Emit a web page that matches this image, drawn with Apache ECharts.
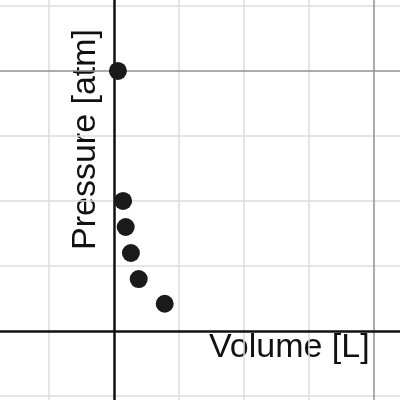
<!DOCTYPE html>
<html>
<head>
<meta charset="utf-8">
<script src="https://cdn.jsdelivr.net/npm/echarts@6/dist/echarts.min.js"></script>
<style>html,body{margin:0;padding:0;background:#fff}#c{width:400px;height:400px}</style>
</head>
<body>
<div id="c"></div>
<script>
// data
const volume = [0.06, 0.14, 0.18, 0.26, 0.38, 0.78]
const pressure = [4.0, 2.0, 1.6, 1.2, 0.8, 0.42]
const minorX = [-1, 1, 2, 3]
const minorY = [-1, 1, 2, 3, 5]
const majorX = [4]
const majorY = [4]

let myChart = echarts.init(document.getElementById('c'))
const minorStyle = { color: '#dcdcdc', width: 1.5, type: 'solid' }
const majorStyle = { color: '#909090', width: 1.5, type: 'solid' }
const axisStyle = { color: '#111', width: 2.5, type: 'solid' }
function vlines(xs) { return xs.map(v => ({ xAxis: v })) }
function hlines(ys) { return ys.map(v => ({ yAxis: v })) }
function lineSeries(data, style, z) {
    return {
        type: 'scatter', data: [], z: z, silent: true,
        markLine: { symbol: 'none', silent: true, label: { show: false }, lineStyle: style, data: data, animation: false }
    }
}
let option = {
    animation: false,
    grid: { left: 0, right: 0, top: 0, bottom: 0 },
    xAxis: { type: 'value', min: -1.754, max: 4.4, show: false, splitLine: { show: false } },
    yAxis: { type: 'value', min: -1.06, max: 5.09, show: false, splitLine: { show: false } },
    graphic: [
        { type: 'text', left: 209, top: 331, style: { text: 'Volume [L]', font: '34px "Liberation Sans", Arial', fill: '#111' } },
        { type: 'text', x: 69, y: 250, rotation: Math.PI / 2, style: { text: 'Pressure [atm]', font: '34px "Liberation Sans", Arial', fill: '#111' } }
    ],
    series: [
        lineSeries(vlines(minorX).concat(hlines(minorY)), minorStyle, 1),
        lineSeries(vlines(majorX).concat(hlines(majorY)), majorStyle, 2),
        lineSeries(vlines([0]).concat(hlines([0])), axisStyle, 3),
        {
            type: 'scatter', z: 5,
            symbolSize: 18,
            itemStyle: { color: '#1a1a1a', opacity: 1 },
            data: volume.map((v, i) => [v, pressure[i]])
        }
    ]
}
myChart.setOption(option)
</script>
</body>
</html>
